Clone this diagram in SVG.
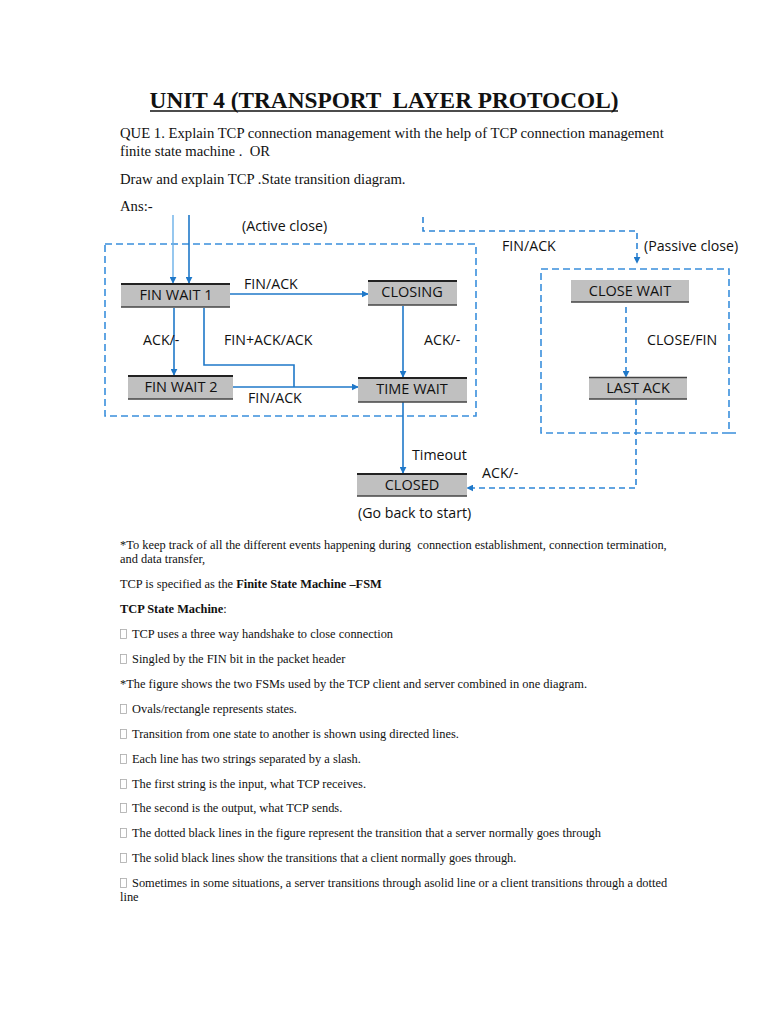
<svg xmlns="http://www.w3.org/2000/svg" width="768" height="1024" viewBox="0 0 768 1024">
<defs>
<style>
text{white-space:pre}
.doc{font-family:"Liberation Serif","Times New Roman",serif;fill:#111}
.q{font-size:14.7px}
.b{font-size:12.4px}
.lbl{font-family:"Open Sans","Noto Sans",sans-serif;font-size:14.2px;fill:#111}
.nt{font-family:"Open Sans","Noto Sans",sans-serif;font-size:14.5px;fill:#111;text-anchor:middle}
.fill{fill:#c0c0c0}
.top{stroke:#222;stroke-width:2}
.bot{stroke:#444;stroke-width:1.5}
.conn{fill:none;stroke:#1f78c9;stroke-width:1.6}
.dash{fill:none;stroke:#2f86d6;stroke-width:1.6;stroke-dasharray:6,4}
.frame{fill:none;stroke:#3a8fdc;stroke-width:1.6;stroke-dasharray:7,4}
.bx{fill:none;stroke:#aaa;stroke-width:0.8}
</style>
<marker id="ah" viewBox="0 0 10 10" refX="9" refY="5" markerWidth="7" markerHeight="7" orient="auto" markerUnits="userSpaceOnUse">
<path d="M0,0 L10,5 L0,10 z" fill="#1f78c9"/>
</marker>
</defs>
<rect width="768" height="1024" fill="#fff"/>

<g id="header">
<text class="doc" x="384" y="108" font-size="23.3" font-weight="bold" text-anchor="middle">UNIT 4 (TRANSPORT  LAYER PROTOCOL)</text>
<line x1="150" y1="111" x2="618" y2="111" stroke="#111" stroke-width="1.3"/>
<text class="doc q" x="120" y="138">QUE 1. Explain TCP connection management with the help of TCP connection management</text>
<text class="doc q" x="120" y="156">finite state machine .  OR</text>
<text class="doc q" x="120" y="184">Draw and explain TCP .State transition diagram.</text>
<text class="doc q" x="120" y="211">Ans:-</text>
</g>

<g id="frames">
<rect class="frame" x="105" y="244" width="371" height="172"/>
<path class="frame" d="M729,433 L541,433 L541,269 L729,269 L729,433 M729,433 L740,433"/>
</g>

<g id="connectors">
<line x1="173" y1="215" x2="173" y2="283" stroke="#6ab0e8" stroke-width="1.4" marker-end="url(#ah)"/>
<line class="conn" x1="189" y1="215" x2="189" y2="283" marker-end="url(#ah)"/>
<line class="conn" x1="230" y1="294" x2="368" y2="294" marker-end="url(#ah)"/>
<line class="conn" x1="174" y1="308" x2="174" y2="375" marker-end="url(#ah)"/>
<path class="conn" d="M204,308 L204,365 L294,365 L294,387"/>
<line class="conn" x1="233" y1="387" x2="358" y2="387" marker-end="url(#ah)"/>
<line class="conn" x1="403" y1="306" x2="403" y2="377" marker-end="url(#ah)"/>
<line class="conn" x1="403" y1="402" x2="403" y2="473" marker-end="url(#ah)"/>
<path class="dash" d="M423,217 L423,231 L637,231 L637,263" marker-end="url(#ah)"/>
<line class="dash" x1="626" y1="307" x2="626" y2="377" marker-end="url(#ah)"/>
<path class="dash" d="M636,399 L636,488 L467,488" marker-end="url(#ah)"/>
<text class="lbl" x="244" y="289">FIN/ACK</text>
<text class="lbl" x="143" y="345">ACK/-</text>
<text class="lbl" x="224" y="345">FIN+ACK/ACK</text>
<text class="lbl" x="248" y="403">FIN/ACK</text>
<text class="lbl" x="424" y="345">ACK/-</text>
<text class="lbl" x="412" y="460">Timeout</text>
<text class="lbl" x="482" y="478">ACK/-</text>
<text class="lbl" x="502" y="251">FIN/ACK</text>
<text class="lbl" x="647" y="345">CLOSE/FIN</text>
<text class="lbl" x="242" y="231">(Active close)</text>
<text class="lbl" x="644" y="251">(Passive close)</text>
<text class="lbl" x="358" y="518">(Go back to start)</text>
</g>

<g id="finwait1">
<rect class="fill" x="121" y="283" width="109" height="24"/>
<line class="top" x1="121" y1="284" x2="230" y2="284"/>
<line class="bot" x1="121" y1="307" x2="230" y2="307"/>
<text class="nt" x="176" y="300">FIN WAIT 1</text>
</g>
<g id="closing">
<rect class="fill" x="368" y="280" width="89" height="25"/>
<line class="top" x1="368" y1="281" x2="457" y2="281"/>
<line class="bot" x1="368" y1="305" x2="457" y2="305"/>
<text class="nt" x="412" y="297">CLOSING</text>
</g>
<g id="finwait2">
<rect class="fill" x="128" y="375" width="105" height="24"/>
<line class="top" x1="128" y1="376" x2="233" y2="376"/>
<line class="bot" x1="128" y1="399" x2="233" y2="399"/>
<text class="nt" x="181" y="392">FIN WAIT 2</text>
</g>
<g id="timewait">
<rect class="fill" x="358" y="377" width="109" height="25"/>
<line class="top" x1="358" y1="378" x2="467" y2="378"/>
<line class="bot" x1="358" y1="402" x2="467" y2="402"/>
<text class="nt" x="412" y="394">TIME WAIT</text>
</g>
<g id="closed">
<rect class="fill" x="357" y="473" width="110" height="23"/>
<line class="top" x1="357" y1="474" x2="467" y2="474"/>
<line class="bot" x1="357" y1="496" x2="467" y2="496"/>
<text class="nt" x="412" y="490">CLOSED</text>
</g>
<g id="closewait">
<rect class="fill" x="571" y="280" width="118" height="22"/>
<line class="bot" x1="571" y1="302" x2="689" y2="302"/>
<text class="nt" x="630" y="296">CLOSE WAIT</text>
</g>
<g id="lastack">
<rect class="fill" x="589" y="377" width="98" height="22"/>
<line class="bot" x1="589" y1="377.5" x2="687" y2="377.5" stroke-width="1"/>
<line class="bot" x1="589" y1="399" x2="687" y2="399" stroke-width="1"/>
<text class="nt" x="638" y="393">LAST ACK</text>
</g>

<g id="body">
<text class="doc b" x="120" y="549">*To keep track of all the different events happening during  connection establishment, connection termination,</text>
<text class="doc b" x="120" y="563">and data transfer,</text>
<text class="doc b" x="120" y="588">TCP is specified as the <tspan font-weight="bold">Finite State Machine –FSM</tspan></text>
<text class="doc b" x="120" y="613"><tspan font-weight="bold">TCP State Machine</tspan>:</text>
<text class="doc b" x="132" y="638">TCP uses a three way handshake to close connection</text>
<text class="doc b" x="132" y="663">Singled by the FIN bit in the packet header</text>
<text class="doc b" x="120" y="688">*The figure shows the two FSMs used by the TCP client and server combined in one diagram.</text>
<text class="doc b" x="132" y="713">Ovals/rectangle represents states.</text>
<text class="doc b" x="132" y="738">Transition from one state to another is shown using directed lines.</text>
<text class="doc b" x="132" y="763">Each line has two strings separated by a slash.</text>
<text class="doc b" x="132" y="788">The first string is the input, what TCP receives.</text>
<text class="doc b" x="132" y="812">The second is the output, what TCP sends.</text>
<text class="doc b" x="132" y="837">The dotted black lines in the figure represent the transition that a server normally goes through</text>
<text class="doc b" x="132" y="862">The solid black lines show the transitions that a client normally goes through.</text>
<text class="doc b" x="132" y="887">Sometimes in some situations, a server transitions through asolid line or a client transitions through a dotted</text>
<text class="doc b" x="120" y="901">line</text>
<rect class="bx" x="120.5" y="629.5" width="6" height="9"/>
<rect class="bx" x="120.5" y="654.5" width="6" height="9"/>
<rect class="bx" x="120.5" y="704.5" width="6" height="9"/>
<rect class="bx" x="120.5" y="729.5" width="6" height="9"/>
<rect class="bx" x="120.5" y="754.5" width="6" height="9"/>
<rect class="bx" x="120.5" y="779.5" width="6" height="9"/>
<rect class="bx" x="120.5" y="803.5" width="6" height="9"/>
<rect class="bx" x="120.5" y="828.5" width="6" height="9"/>
<rect class="bx" x="120.5" y="853.5" width="6" height="9"/>
<rect class="bx" x="120.5" y="878.5" width="6" height="9"/>
</g>
</svg>
